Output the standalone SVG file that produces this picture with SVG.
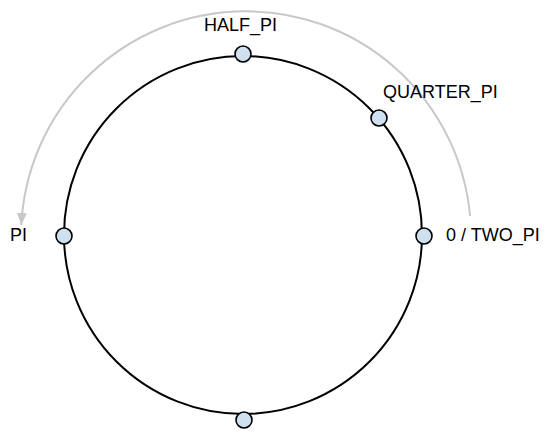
<svg xmlns="http://www.w3.org/2000/svg" width="554" height="436" viewBox="0 0 554 436">
<defs>
<style>
.lbl{font-family:"Liberation Sans",Arial,sans-serif;font-size:18px;fill:#000}
.node{fill:#cfe0f1;stroke:#000;stroke-width:1.6}
.ring{fill:none;stroke:#000;stroke-width:2}
.arc{fill:none;stroke:#c8c8c8;stroke-width:2}
</style>
<marker id="ah" viewBox="0 0 12 10" refX="12" refY="5" markerWidth="12" markerHeight="10" markerUnits="userSpaceOnUse" orient="auto">
<path d="M0,0 L12,5 L0,10 Z" fill="#c8c8c8"/>
</marker>
</defs>
<rect width="554" height="436" fill="#fff"/>
<g id="connectors">
<circle class="ring" cx="243" cy="235" r="179"/>
<path class="arc" d="M470.1,216 A225,225 0 0 0 21.3,225" marker-end="url(#ah)"/>
</g>
<g id="node-half-pi"><circle class="node" cx="243" cy="54" r="8"/><text class="lbl" x="204" y="31">HALF_PI</text></g>
<g id="node-quarter-pi"><circle class="node" cx="379" cy="118" r="8"/><text class="lbl" x="383" y="98">QUARTER_PI</text></g>
<g id="node-two-pi"><circle class="node" cx="424" cy="236" r="8"/><text class="lbl" x="446" y="241">0 / TWO_PI</text></g>
<g id="node-pi"><circle class="node" cx="64" cy="236" r="8"/><text class="lbl" x="10" y="241">PI</text></g>
<g id="node-bottom"><circle class="node" cx="244" cy="420" r="8"/></g>
</svg>
